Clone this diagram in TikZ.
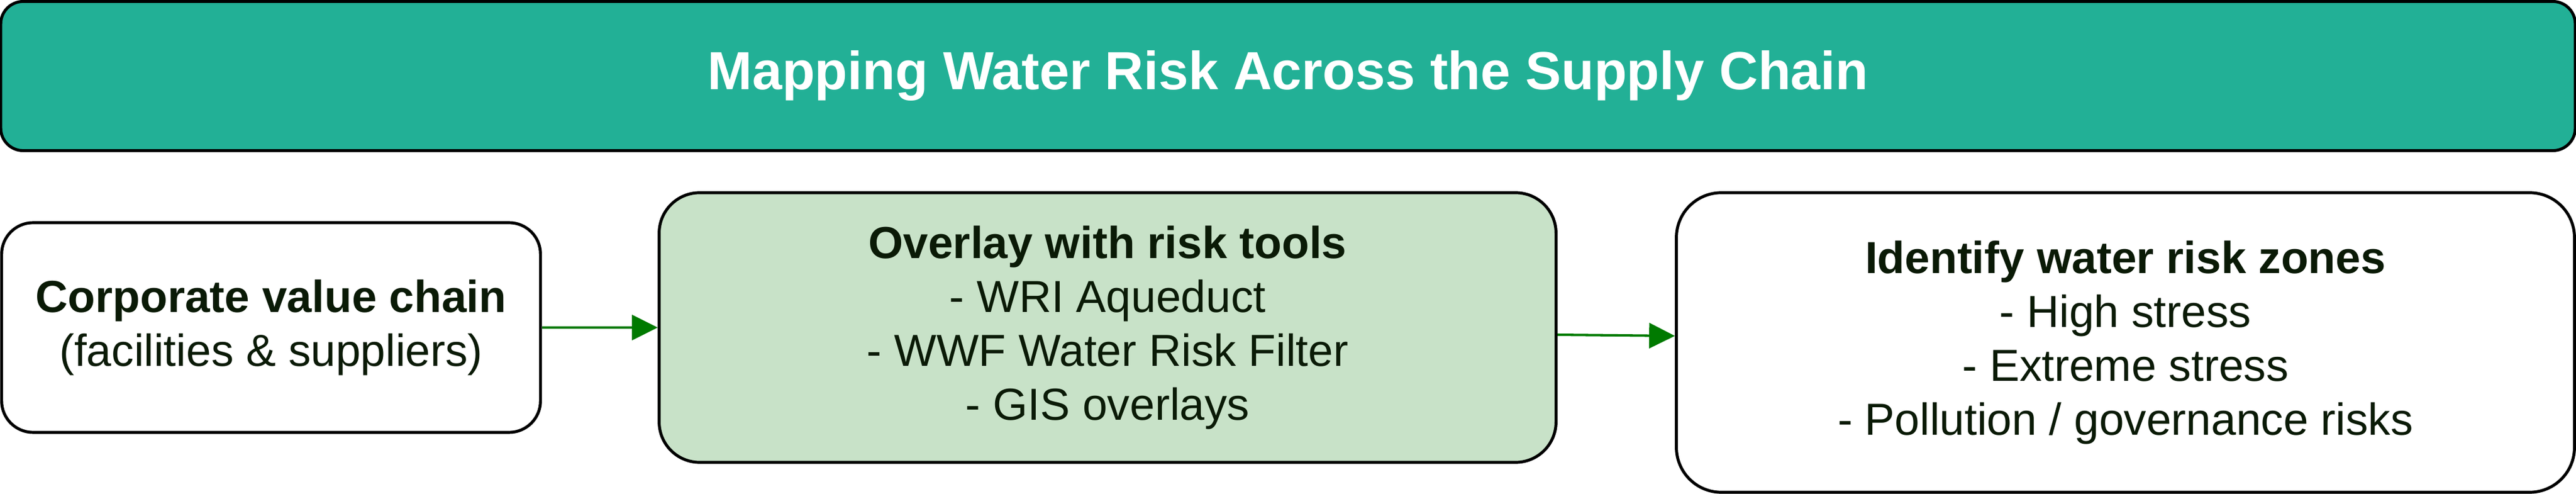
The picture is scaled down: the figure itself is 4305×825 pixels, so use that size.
\documentclass[tikz,border=0pt]{standalone}
\usepackage{fontspec}
\setmainfont{Liberation Sans}
\usetikzlibrary{arrows.meta}
\definecolor{wrteal}{HTML}{22B096}
\definecolor{wrmint}{HTML}{C8E2C8}
\definecolor{wrgreen}{HTML}{007A00}
\definecolor{wrink}{HTML}{0A1A06}

\begin{document}
\begin{tikzpicture}[x=0.01cm, y=-0.01cm]
        \tikzset{
        wr node/.style={rectangle,draw,line width=1.4pt,inner sep=0,align=center,text=wrink,font=\fontsize{21.3pt}{25.6pt}\selectfont},
        wr title/.style={wr node,fill=wrteal,text=white,font=\fontsize{25.5pt}{30pt}\selectfont\bfseries,minimum width=43cm,minimum height=2.49cm,rounded corners=0.375cm},
        wr edge/.style={-{Triangle[length=0.43cm,width=0.42cm]},draw=wrgreen,line width=1.15pt}
        }
        \useasboundingbox (0,0) rectangle (4305,825);
        \node[wr title] (0) at (2152.5,127) {Mapping Water Risk Across the Supply Chain};
        \node[wr node,fill=white,minimum width=9cm,minimum height=3.5cm,rounded corners=0.525cm] (1) at (453,547) {\textbf{Corporate value chain}\\(facilities \& suppliers)};
        \node[wr node,fill=wrmint,minimum width=14.98cm,minimum height=4.5cm,rounded corners=0.675cm] (2) at (1851,547) {\textbf{Overlay with risk tools}\\- WRI Aqueduct\\- WWF Water Risk Filter\\- GIS overlays};
        \node[wr node,fill=white,minimum width=15cm,minimum height=5cm,rounded corners=0.75cm] (3) at (3552,572) {\textbf{Identify water risk zones}\\- High stress\\- Extreme stress\\- Pollution / governance risks};

        \path
        (1) edge[wr edge] (2)
        ([yshift=-0.12cm]2.east) edge[wr edge] ([yshift=0.11cm]3.west)
        ;
\end{tikzpicture}
\end{document}
